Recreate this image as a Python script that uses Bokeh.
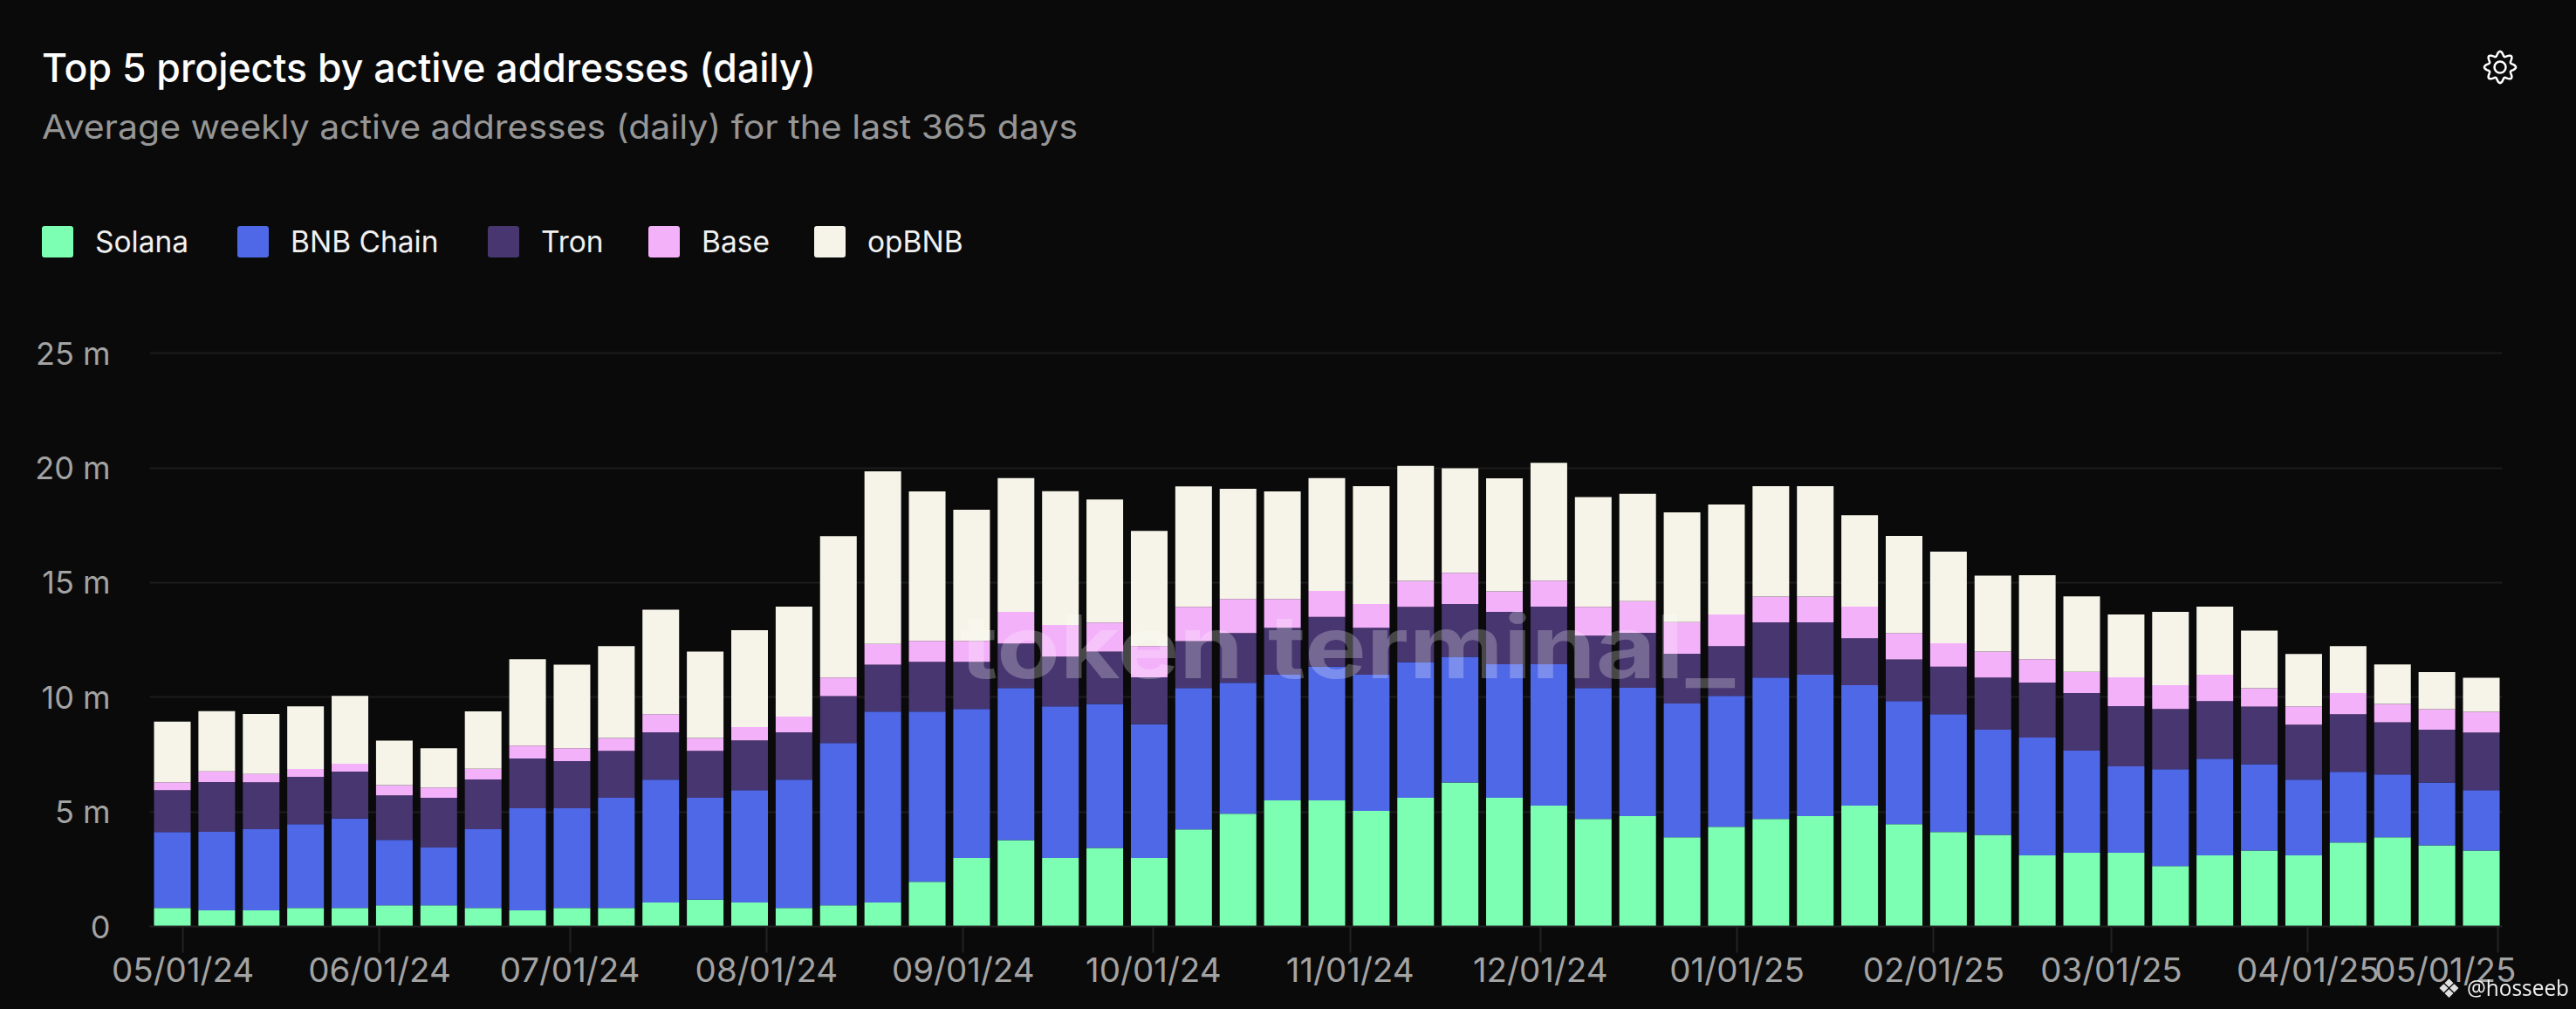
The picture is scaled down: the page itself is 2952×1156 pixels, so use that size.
import math
from datetime import datetime, timedelta, timezone
from bokeh.embed import file_html
from bokeh.layouts import column
from bokeh.resources import INLINE
from bokeh.plotting import figure
from bokeh.models import ColumnDataSource, Div, FixedTicker, DatetimeTickFormatter, Range1d

title_text = "Top 5 projects by active addresses (daily)"
subtitle_text = "Average weekly active addresses (daily) for the last 365 days"
watermark_text = "token terminal_"
credit_text = "@hosseeb"
series_names = ["Solana", "BNB Chain", "Tron", "Base", "opBNB"]
series_colors = ["#7CFFB2", "#4F68E8", "#47366F", "#F3B1FA", "#F6F4E8"]
y_ticks = [0, 5, 10, 15, 20, 25]
y_tick_labels = ["0", "5 m", "10 m", "15 m", "20 m", "25 m"]
x_tick_months = [(2024, 5), (2024, 6), (2024, 7), (2024, 8), (2024, 9), (2024, 10), (2024, 11),
                 (2024, 12), (2025, 1), (2025, 2), (2025, 3), (2025, 4), (2025, 5)]

solana = [0.81, 0.70, 0.70, 0.81, 0.81, 0.92, 0.92, 0.81, 0.70, 0.81, 0.81, 1.05, 1.17, 1.05, 0.81, 0.92, 1.05,
          1.95, 2.99, 3.77, 2.99, 3.43, 2.99, 4.23, 4.92, 5.50, 5.50, 5.04, 5.61, 6.28, 5.61, 5.27, 4.69, 4.81,
          3.89, 4.35, 4.69, 4.81, 5.27, 4.46, 4.12, 4.00, 3.10, 3.22, 3.22, 2.64, 3.10, 3.31, 3.10, 3.66, 3.89,
          3.54, 3.31]
bnb_chain = [3.31, 3.43, 3.54, 3.65, 3.90, 2.86, 2.52, 3.43, 4.46, 4.35, 4.80, 5.35, 4.44, 4.90, 5.59, 7.08, 8.32,
             7.42, 6.50, 6.63, 6.61, 6.28, 5.83, 6.17, 5.71, 5.48, 5.83, 5.94, 5.92, 5.48, 5.83, 6.17, 5.71, 5.60,
             5.83, 5.71, 6.17, 6.17, 5.25, 5.37, 5.14, 4.58, 5.14, 4.45, 3.76, 4.22, 4.22, 3.77, 3.30, 3.09, 2.74,
             2.74, 2.64]
tron = [1.83, 2.17, 2.05, 2.07, 2.05, 1.94, 2.17, 2.17, 2.17, 2.05, 2.05, 2.07, 2.05, 2.17, 2.07, 2.05, 2.05,
        2.17, 2.05, 1.94, 2.17, 2.28, 2.05, 2.05, 2.17, 2.05, 2.17, 2.05, 2.41, 2.30, 2.28, 2.51, 2.28, 2.40,
        2.17, 2.17, 2.40, 2.28, 2.05, 1.82, 2.07, 2.28, 2.40, 2.51, 2.63, 2.63, 2.51, 2.51, 2.40, 2.51, 2.28,
        2.30, 2.51]
base = [0.34, 0.47, 0.36, 0.34, 0.34, 0.45, 0.45, 0.47, 0.56, 0.56, 0.56, 0.79, 0.56, 0.58, 0.68, 0.81, 0.90,
        0.92, 0.92, 1.38, 1.38, 1.26, 1.36, 1.49, 1.48, 1.25, 1.13, 1.03, 1.13, 1.36, 0.90, 1.13, 1.26, 1.38,
        1.38, 1.38, 1.13, 1.13, 1.38, 1.15, 1.02, 1.13, 1.02, 0.92, 1.26, 1.03, 1.15, 0.80, 0.80, 0.92, 0.80,
        0.90, 0.90]
opbnb = [2.64, 2.62, 2.62, 2.73, 2.96, 1.94, 1.71, 2.50, 3.77, 3.65, 4.01, 4.56, 3.77, 4.22, 4.80, 6.16, 7.53,
         6.51, 5.71, 5.83, 5.83, 5.37, 5.02, 5.25, 4.81, 4.69, 4.92, 5.14, 5.02, 4.56, 4.92, 5.14, 4.79, 4.68,
         4.79, 4.79, 4.81, 4.81, 3.99, 4.23, 4.00, 3.31, 3.66, 3.30, 2.74, 3.20, 2.97, 2.51, 2.28, 2.05, 1.72,
         1.61, 1.49]

BG = "#0A0A0A"
W, H = 2952, 1156
HEAD_H, FOOT_TOP = 370, 1136      # page rows where the chart canvas starts and ends
CHART_W = 2883                    # the last tick label is cut at the chart's right edge
FRAME_L, FRAME_R, FRAME_T, FRAME_B = 171, 2867, 401, 1061   # page pixels
Y_TOP = 25.12                     # a little above 25 so the top gridline is drawn whole
PX_PER_DAY = 7.269
first = datetime(2024, 4, 29, 8)
dates = [first + timedelta(days=7 * i) for i in range(len(solana))]

src = ColumnDataSource(dict(date=dates, Solana=solana, BNB=bnb_chain, Tron=tron, Base=base, opBNB=opbnb))
keys = ["Solana", "BNB", "Tron", "Base", "opBNB"]

x0 = first - timedelta(days=(197 - FRAME_L) / PX_PER_DAY)
x1 = dates[-1] + timedelta(days=(FRAME_R - 2843) / PX_PER_DAY)


def svg_text(x, y, text, size, color, font="Inter", weight=400, length=None, opacity=1):
    fit = f' textLength="{length}" lengthAdjust="spacingAndGlyphs"' if length else ""
    return (f'<text x="{x}" y="{y}"{fit} style="font-family:\'{font}\';font-size:{size}px;font-weight:{weight};'
            f'fill:{color};fill-opacity:{opacity}">{text}</text>')


# header: title, subtitle, legend, settings icon
swatch_x = [48, 272, 559, 743, 933]
parts = [svg_text(48, 94, title_text, 45, "#FFFFFF", weight=500, length=887),
         svg_text(48, 159, subtitle_text, 38.4, "#969696", length=1187)]
for s, name, color in zip(swatch_x, series_names, series_colors):
    parts.append(f'<rect x="{s}" y="259" width="36" height="36" rx="3" fill="{color}"/>')
    parts.append(svg_text(s + 61, 289, name, 33.5, "#F0F0F0"))
cx, cy = 2865, 77
angles = [2 * math.pi * i / 96 for i in range(96)]
gear = " ".join(f"{cx + (15.5 + 2.6 * math.cos(8 * a)) * math.cos(a):.2f},{cy + (15.5 + 2.6 * math.cos(8 * a)) * math.sin(a):.2f}"
                for a in angles)
parts.append(f'<polygon points="{gear}" fill="none" stroke="#FFFFFF" stroke-width="2.5"/>')
parts.append(f'<circle cx="{cx}" cy="{cy}" r="6.5" fill="none" stroke="#FFFFFF" stroke-width="2.5"/>')
head = Div(text=f'<svg xmlns="http://www.w3.org/2000/svg" width="{W}" height="{HEAD_H}" style="display:block">{"".join(parts)}</svg>',
           width=W, height=HEAD_H, margin=0)

# the chart
p = figure(width=CHART_W, height=FOOT_TOP - HEAD_H, output_backend="svg", toolbar_location=None,
           x_axis_type="datetime", x_range=Range1d(x0, x1), y_range=Range1d(0, Y_TOP),
           min_border_left=FRAME_L, min_border_right=CHART_W - FRAME_R,
           min_border_top=FRAME_T - HEAD_H, min_border_bottom=FOOT_TOP - FRAME_B,
           background_fill_color=BG, border_fill_color=BG, outline_line_color=None)

bar_w = 42 / PX_PER_DAY * 86400000
p.vbar_stack(keys, x="date", width=bar_w, source=src, fill_color=series_colors, line_color=None)

p.xgrid.visible = False
p.ygrid.grid_line_color = "#1C1C1C"
p.ygrid.grid_line_width = 2

yax = p.yaxis[0]
yax.ticker = FixedTicker(ticks=y_ticks)
yax.major_label_overrides = dict(zip(y_ticks, y_tick_labels))
yax.axis_line_color = None
yax.major_tick_line_color = None
yax.minor_tick_line_color = None
yax.major_tick_out = 0
yax.major_label_standoff = 45
yax.major_label_text_color = "#A3A3A3"
yax.major_label_text_font = "Inter"
yax.major_label_text_font_size = "36px"

xax = p.xaxis[0]
xticks = [datetime(y, m, 1, tzinfo=timezone.utc).timestamp() * 1000 for y, m in x_tick_months]
xax.ticker = FixedTicker(ticks=xticks)
fmt = "%m/%d/%y"
xax.formatter = DatetimeTickFormatter(days=fmt, months=fmt, years=fmt)
xax.axis_line_color = "#222222"
xax.axis_line_width = 2
xax.major_tick_line_color = "#222222"
xax.major_tick_line_width = 2
xax.major_tick_in = 0
xax.major_tick_out = 30
xax.minor_tick_line_color = None
xax.major_label_standoff = -4
xax.major_label_text_color = "#A3A3A3"
xax.major_label_text_font = "Inter"
xax.major_label_text_font_size = "38.5px"

# footer: credit, plus the faint watermark that lies over the bars (reaches up over the chart)
page_svg = f'position:absolute;left:0;top:-{FOOT_TOP}px;overflow:visible;pointer-events:none;'
foot = Div(text=(
    f'<svg xmlns="http://www.w3.org/2000/svg" width="{W}" height="{H}" style="{page_svg}mix-blend-mode:overlay">'
    + svg_text(1100, 777, watermark_text, 100, "#FFFFFF", weight=700, length=888, opacity=0.25)
    + '</svg>'
    f'<svg xmlns="http://www.w3.org/2000/svg" width="{W}" height="{H}" style="{page_svg}">'
    + svg_text(2827, 1141, credit_text, 25, "#F0F0F0", font="Open Sans", length=117)
    + svg_text(2793, 1143, "\u2756", 30, "#E0E0E0", font="DejaVu Sans")
    + '</svg>'),
    width=W, height=H - FOOT_TOP, margin=0, styles={"overflow": "visible", "position": "relative", "z-index": "5"})

page = column(head, p, foot, spacing=0, styles={"background-color": BG})
open("out.html", "w").write(file_html(page, INLINE))
